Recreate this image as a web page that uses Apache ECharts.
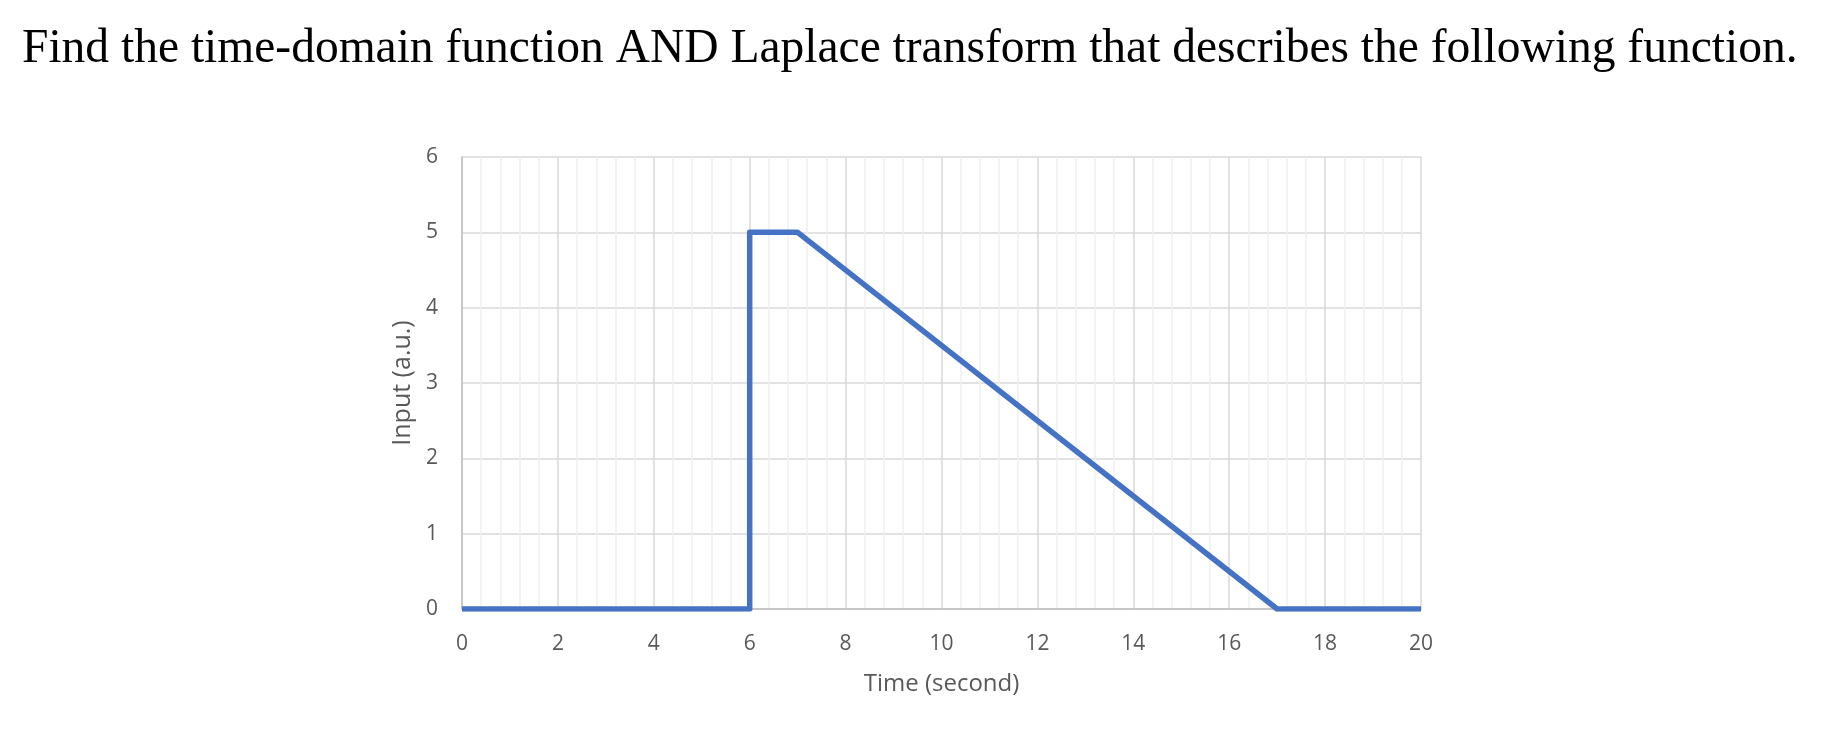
<!DOCTYPE html>
<html><head><meta charset="utf-8">
<script src="https://cdn.jsdelivr.net/npm/echarts@6/dist/echarts.min.js"></script>
<style>html,body{margin:0;padding:0;background:#fff}#c{width:1832px;height:740px}</style>
</head><body><div id="c"></div>
<script>
const titleText = "Find the time-domain function AND Laplace transform that describes the following function.";
const xName = "Time (second)";
const yName = "Input (a.u.)";
const timeValues = [0, 6, 6, 7, 17, 20];
const inputValues = [0, 0, 5, 5, 0, 0];
const xTicks = [0, 2, 4, 6, 8, 10, 12, 14, 16, 18, 20];
const yTicks = [0, 1, 2, 3, 4, 5, 6];

const chart = echarts.init(document.getElementById('c'), null, {renderer: 'canvas'});
chart.setOption({
  animation: false,
  backgroundColor: '#fff',
  title: {
    text: titleText, left: 17, top: 21,
    textStyle: {fontFamily: 'Liberation Serif', fontWeight: 'normal', fontSize: 47.5, color: '#000'}
  },
  grid: {left: 462, right: 411, top: 157, bottom: 131},
  xAxis: {
    type: 'value', min: xTicks[0], max: xTicks[xTicks.length - 1], interval: 2,
    name: xName, nameLocation: 'middle', nameGap: 63,
    nameTextStyle: {fontFamily: 'Open Sans', fontSize: 24, color: '#595959'},
    axisLine: {show: true, lineStyle: {color: '#bfbfbf', width: 1.5}},
    axisTick: {show: false},
    axisLabel: {fontFamily: 'Open Sans', fontSize: 21, color: '#595959', margin: 25},
    splitLine: {show: true, lineStyle: {color: '#d9d9d9', width: 1.5}},
    minorTick: {show: false, splitNumber: 5},
    minorSplitLine: {show: true, lineStyle: {color: '#f0f0f0', width: 1.5}}
  },
  yAxis: {
    type: 'value', min: yTicks[0], max: yTicks[yTicks.length - 1], interval: 1,
    name: yName, nameLocation: 'middle', nameGap: 44, nameRotate: 90,
    nameTextStyle: {fontFamily: 'Open Sans', fontSize: 25, color: '#595959'},
    axisLine: {show: true, lineStyle: {color: '#bfbfbf', width: 1.5}},
    axisTick: {show: false},
    axisLabel: {fontFamily: 'Open Sans', fontSize: 21, color: '#595959', margin: 24},
    splitLine: {show: true, lineStyle: {color: '#d9d9d9', width: 1.5}}
  },
  series: [{
    type: 'line',
    data: timeValues.map((t, i) => [t, inputValues[i]]),
    symbol: 'none',
    lineStyle: {color: '#4472C4', width: 5.5, join: 'round'},
    z: 5
  }]
});
</script></body></html>
